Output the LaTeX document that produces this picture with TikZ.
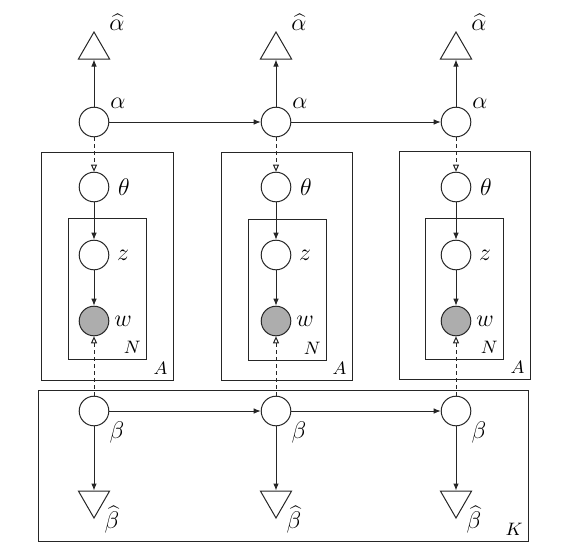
\documentclass[tikz,border=0pt]{standalone}
\usetikzlibrary{arrows.meta,shapes.geometric,positioning}
\tikzset{
  latent/.style={circle, draw=black!85, line width=0.5pt, minimum size=14.8pt, inner sep=0pt},
  obs/.style={latent, fill=black!32},
  hyper/.style={regular polygon, regular polygon sides=3, draw=black!85, line width=0.5pt, minimum size=18pt, inner sep=0pt},
  varlab/.style={on grid, font=\fontsize{13}{15}\selectfont, inner sep=0pt},
  platelab/.style={anchor=south east, font=\small, inner sep=2.5pt},
  plate/.style={draw=black!85, line width=0.5pt},
  arr/.style={-{Latex[length=3.5pt,width=2.8pt]}, draw=black!85, line width=0.5pt},
  darr/.style={-{Triangle[open,length=3.5pt,width=3pt]}, draw=black!85, line width=0.5pt, dash pattern=on 2pt off 1.5pt},
}
\begin{document}
\begin{tikzpicture}[x=0.5pt, y=-0.5pt]
		\useasboundingbox (0,0) rectangle (572,548);
		% 第1列
		\node[latent] (a1) at (94,122) {};
		\node[latent] (t1) at (94,187) {};
		\node[latent] (z1) at (94,255) {};
		\node[obs] (w1) at (94,321) {};
		\node[latent] (b1) at (94,411) {};
		\node[hyper] (ah1) at (94,50) {};
		\node[hyper, shape border rotate=180] (bh1) at (94,500) {};
		\node[varlab, above right=9.5pt and 12pt of a1] (la1) {$\alpha$};
		\node[varlab, right=15pt of t1] (lt1) {$\theta$};
		\node[varlab, right=14.5pt of z1] (lz1) {$z$};
		\node[varlab, right=14.5pt of w1] (lw1) {$w$};
		\node[varlab, below right=10.5pt and 11.5pt of b1] (lb1) {$\beta$};
		\node[varlab, above right=14pt and 11.5pt of ah1] (lah1) {$\widehat{\alpha}$};
		\node[varlab, below right=10pt and 9pt of bh1] (lbh1) {$\widehat{\beta}$};
		% 第2列
		\node[latent] (a2) at (276,122) {};
		\node[latent] (t2) at (276,187) {};
		\node[latent] (z2) at (276,255) {};
		\node[obs] (w2) at (276,321) {};
		\node[latent] (b2) at (276,411) {};
		\node[hyper] (ah2) at (276,50) {};
		\node[hyper, shape border rotate=180] (bh2) at (276,500) {};
		\node[varlab, above right=9.5pt and 12pt of a2] (la2) {$\alpha$};
		\node[varlab, right=15pt of t2] (lt2) {$\theta$};
		\node[varlab, right=14.5pt of z2] (lz2) {$z$};
		\node[varlab, right=14.5pt of w2] (lw2) {$w$};
		\node[varlab, below right=10.5pt and 11.5pt of b2] (lb2) {$\beta$};
		\node[varlab, above right=14pt and 11.5pt of ah2] (lah2) {$\widehat{\alpha}$};
		\node[varlab, below right=10pt and 9pt of bh2] (lbh2) {$\widehat{\beta}$};
		% 第3列
		\node[latent] (a3) at (456,122) {};
		\node[latent] (t3) at (456,187) {};
		\node[latent] (z3) at (456,255) {};
		\node[obs] (w3) at (456,321) {};
		\node[latent] (b3) at (456,411) {};
		\node[hyper] (ah3) at (456,50) {};
		\node[hyper, shape border rotate=180] (bh3) at (456,500) {};
		\node[varlab, above right=9.5pt and 12pt of a3] (la3) {$\alpha$};
		\node[varlab, right=15pt of t3] (lt3) {$\theta$};
		\node[varlab, right=14.5pt of z3] (lz3) {$z$};
		\node[varlab, right=14.5pt of w3] (lw3) {$w$};
		\node[varlab, below right=10.5pt and 11.5pt of b3] (lb3) {$\beta$};
		\node[varlab, above right=14pt and 11.5pt of ah3] (lah3) {$\widehat{\alpha}$};
		\node[varlab, below right=10pt and 9pt of bh3] (lbh3) {$\widehat{\beta}$};
		% プレート
		\draw[plate] (41,152) rectangle (173,380) node[platelab] (pA1) {$A$};
		\draw[plate] (68,218) rectangle (146,359) node[platelab] (pN1) {$N$};
		\draw[plate] (221,152) rectangle (352,380) node[platelab] (pA2) {$A$};
		\draw[plate] (248,219) rectangle (326,360) node[platelab] (pN2) {$N$};
		\draw[plate] (399,151) rectangle (530,379) node[platelab] (pA3) {$A$};
		\draw[plate] (425,218) rectangle (503,359) node[platelab] (pN3) {$N$};
		\draw[plate] (38,390) rectangle (528,541) node[platelab] (pK) {$K$};
		% 矢印
		\path
		(a1) edge[arr] (ah1) (a1) edge[darr] (t1) (t1) edge[arr] (z1) (z1) edge[arr] (w1)
		(b1) edge[darr] (w1) (b1) edge[arr] (bh1)
		(a2) edge[arr] (ah2) (a2) edge[darr] (t2) (t2) edge[arr] (z2) (z2) edge[arr] (w2)
		(b2) edge[darr] (w2) (b2) edge[arr] (bh2)
		(a3) edge[arr] (ah3) (a3) edge[darr] (t3) (t3) edge[arr] (z3) (z3) edge[arr] (w3)
		(b3) edge[darr] (w3) (b3) edge[arr] (bh3)
		(a1) edge[arr] (a2) (a2) edge[arr] (a3)
		(b1) edge[arr] (b2) (b2) edge[arr] (b3)
		;
	\end{tikzpicture}
\end{document}
